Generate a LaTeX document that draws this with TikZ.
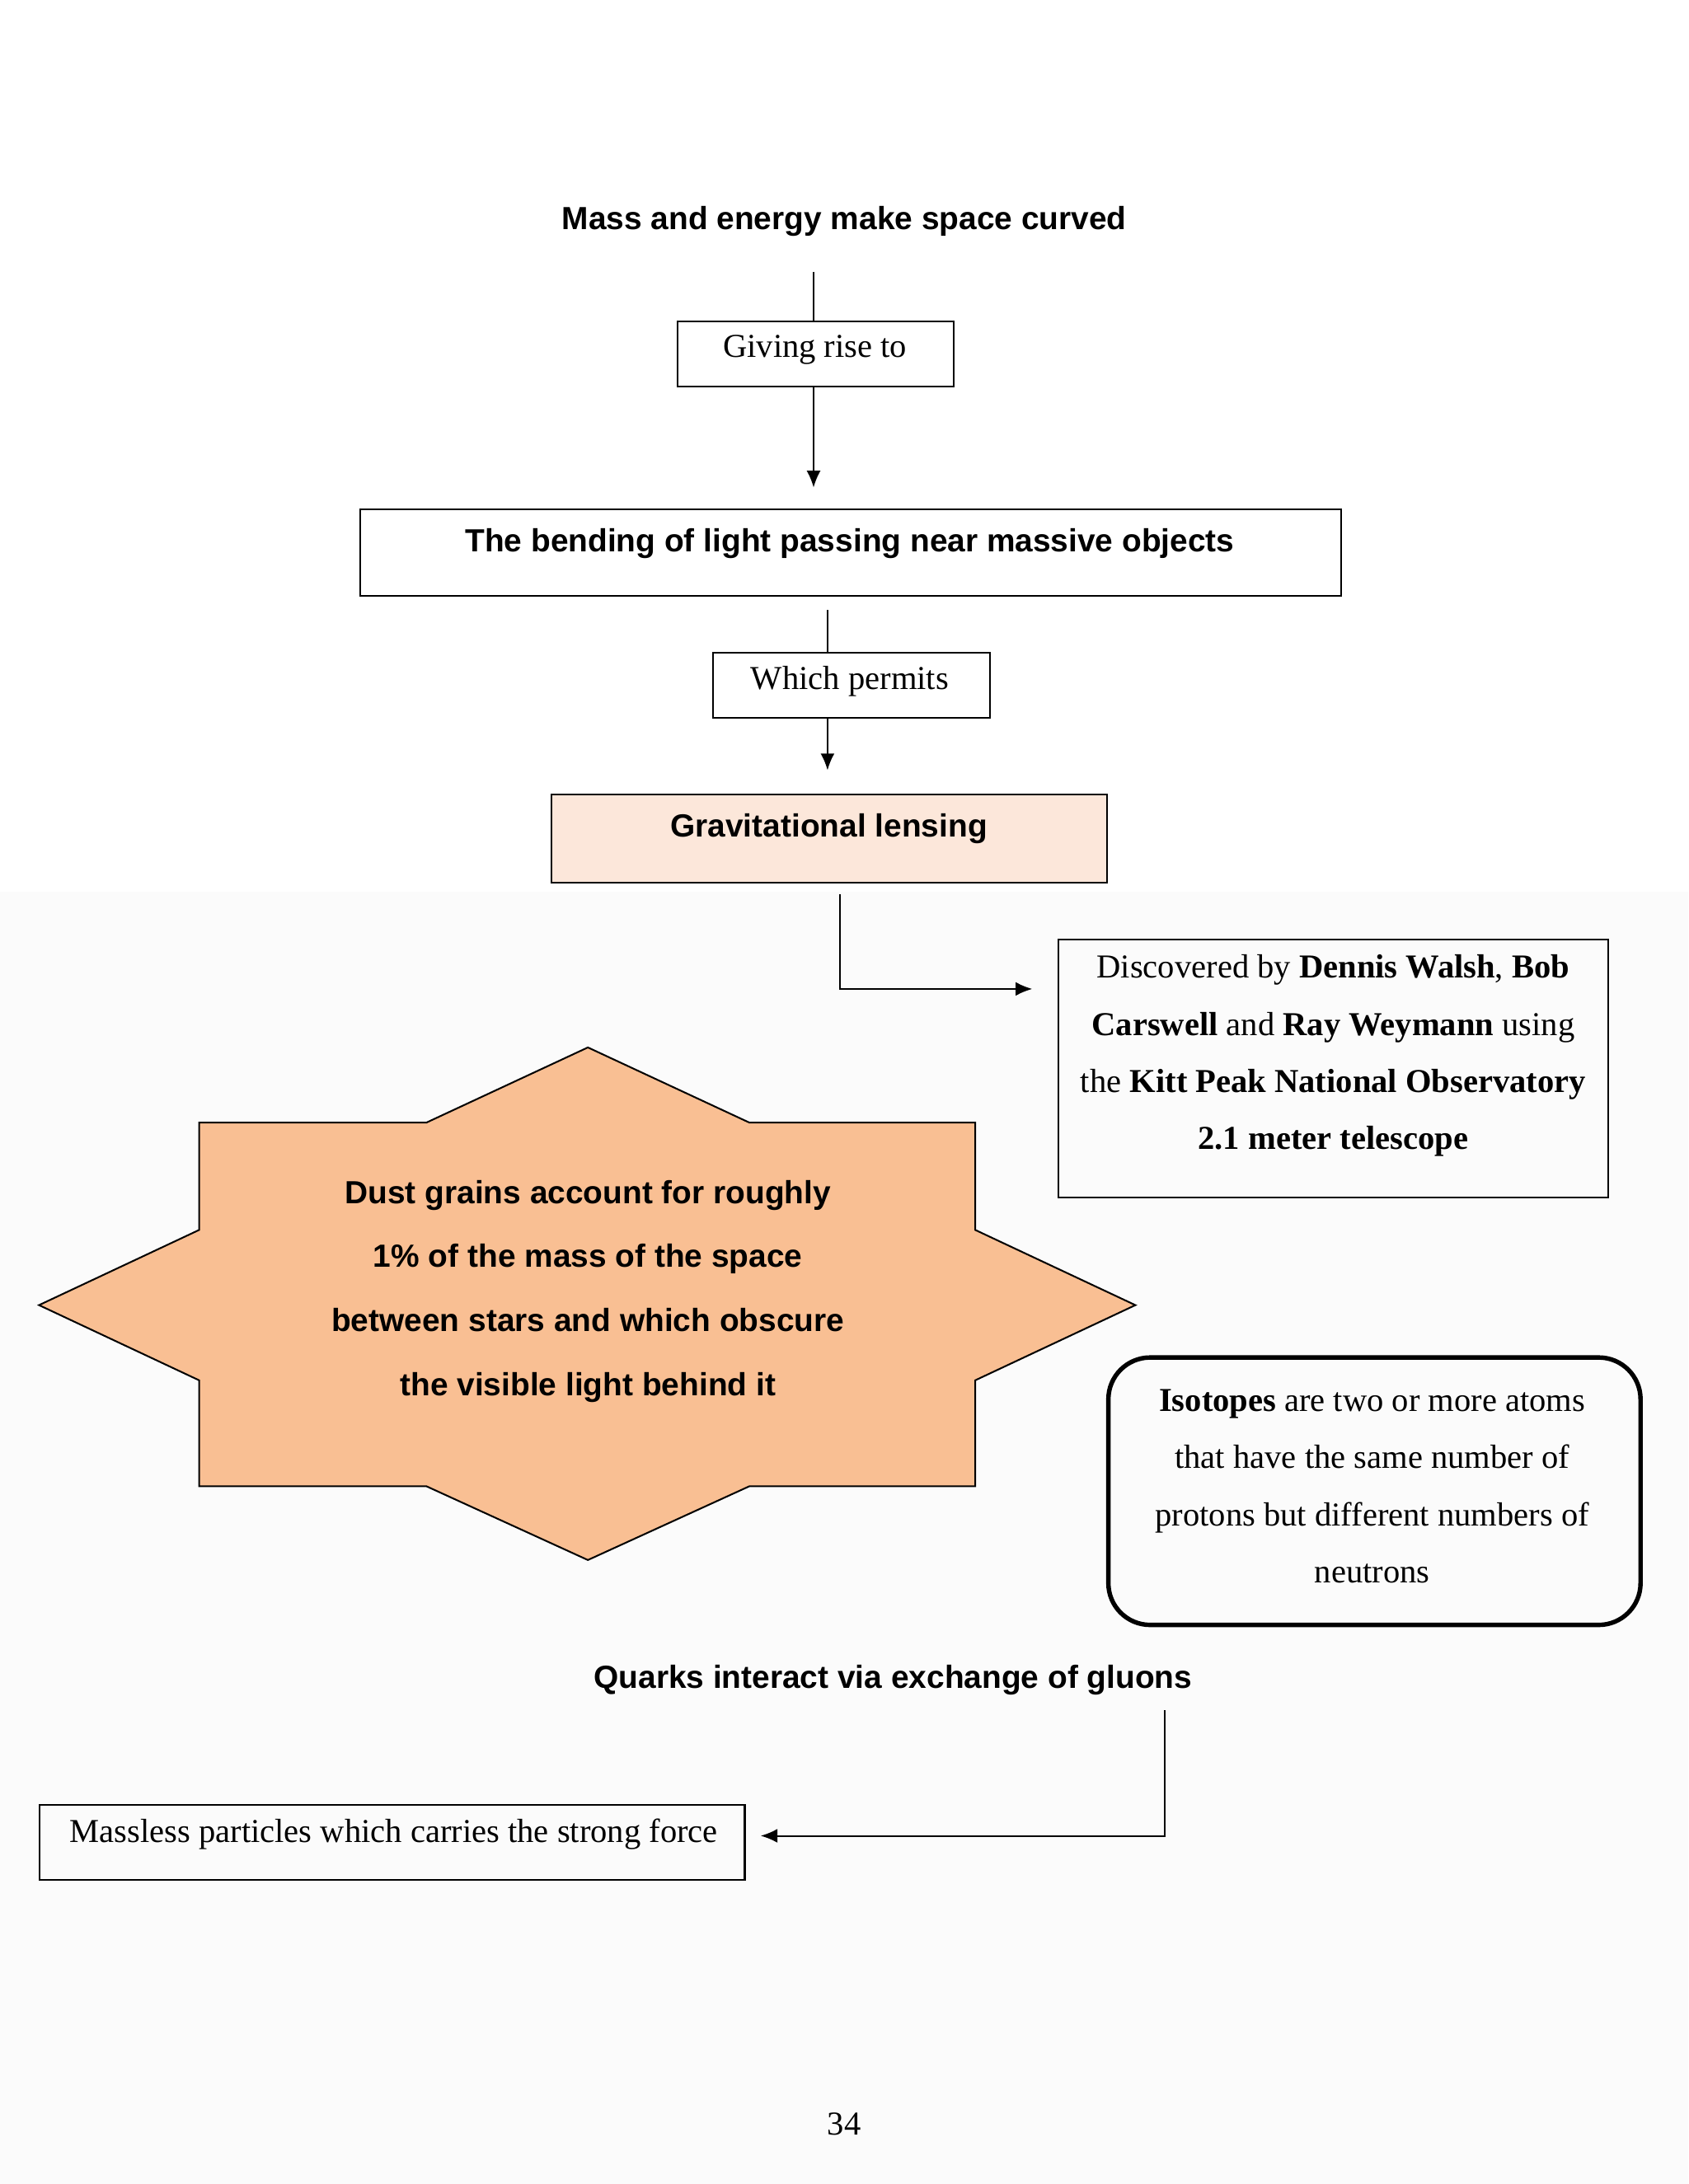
\documentclass[tikz,border=0pt]{standalone}
\usepackage{fontspec}
\setmainfont{Liberation Serif}
\newfontfamily\hsans{Liberation Sans}
\usetikzlibrary{arrows.meta}
\definecolor{peach}{HTML}{FCE7DA}
\definecolor{star}{HTML}{F9BF93}
\begin{document}
\begin{tikzpicture}[x=0.5pt,y=-0.5pt,
  box/.style={draw,line width=0.6pt,minimum height=0pt,inner sep=0pt,anchor=north west},
  hd/.style={font=\hsans\bfseries\fontsize{11.5}{14}\selectfont},
  sr/.style={font=\fontsize{12}{20.5}\selectfont},
  con/.style={line width=0.6pt},
  arr/.style={con,-{Latex[length=6pt,width=5pt]}}]
\useasboundingbox (0,0) rectangle (1212,1568);
\fill[white!97!gray] (0,640) rectangle (1212,1568);
\node[hd] (mass) at (606,159) {Mass and energy make space curved};
\node[box,minimum width=99pt,minimum height=23.5pt,sr] (give) at (486,230) {};
\node[sr] at (585,251) {Giving rise to};
\node[box,minimum width=352pt,minimum height=31pt] (bend) at (258,365) {};
\node[hd] at (610,390) {The bending of light passing near massive objects};
\node[box,minimum width=99.5pt,minimum height=23.5pt] (perm) at (511,468) {};
\node[sr] at (610,489) {Which permits};
\node[box,fill=peach,minimum width=199.5pt,minimum height=31.5pt] (grav) at (395,570) {};
\node[hd] at (595,595) {Gravitational lensing};
\node[box,minimum width=197.5pt,minimum height=92.5pt] (disc) at (759,674) {};
\node[sr,align=center] at (957,758) {Discovered by \textbf{Dennis Walsh}, \textbf{Bob}\\ \textbf{Carswell} and \textbf{Ray Weymann} using\\ the \textbf{Kitt Peak National Observatory}\\ \textbf{2.1 meter telescope}};
\draw[fill=star,line width=0.6pt] (422,752)--(538,806)--(700,806)--(700,883)--(815,937)--(700,991)--(700,1067)--(538,1067)--(422,1120)--(306,1067)--(143,1067)--(143,991)--(28,937)--(143,883)--(143,806)--(306,806)--cycle;
\node[hd,align=center,font=\hsans\bfseries\fontsize{11.5}{23}\selectfont] (dust) at (422,927) {Dust grains account for roughly\\ 1\% of the mass of the space\\ between stars and which obscure\\ the visible light behind it};
\node[draw,line width=1.6pt,rounded corners=15pt,minimum width=191pt,minimum height=96pt,anchor=north west] (iso) at (794,973) {};
\node[sr,align=center] at (985,1067) {\textbf{Isotopes} are two or more atoms\\ that have the same number of\\ protons but different numbers of\\ neutrons};
\node[hd] (quark) at (641,1206) {Quarks interact via exchange of gluons};
\node[box,minimum width=253pt,minimum height=27pt] (massless) at (28,1295) {};
\node[sr,anchor=west] at (43,1317) {Massless particles which carries the strong force};
\node[font=\fontsize{12}{14}\selectfont] at (606,1525) {34};
% connectors
\coordinate (a1) at (584,195);
\draw[con] (a1) -- (a1 |- give.north);
\draw[arr] (584,277) -- (584,350);
\coordinate (b1) at (594,438);
\draw[con] (b1) -- (b1 |- perm.north);
\draw[arr] (594,515) -- (594,553);
\coordinate (c1) at (603,642);
\coordinate (c2) at (603,710);
\coordinate (c3) at (741,710);
\draw[arr] (c1) -- (c2) -- (c3);
\coordinate (d1) at (836,1228);
\coordinate (d2) at (836,1318);
\coordinate (d3) at (546,1318);
\draw[arr] (d1) -- (d2) -- (d3);
\end{tikzpicture}
\end{document}
